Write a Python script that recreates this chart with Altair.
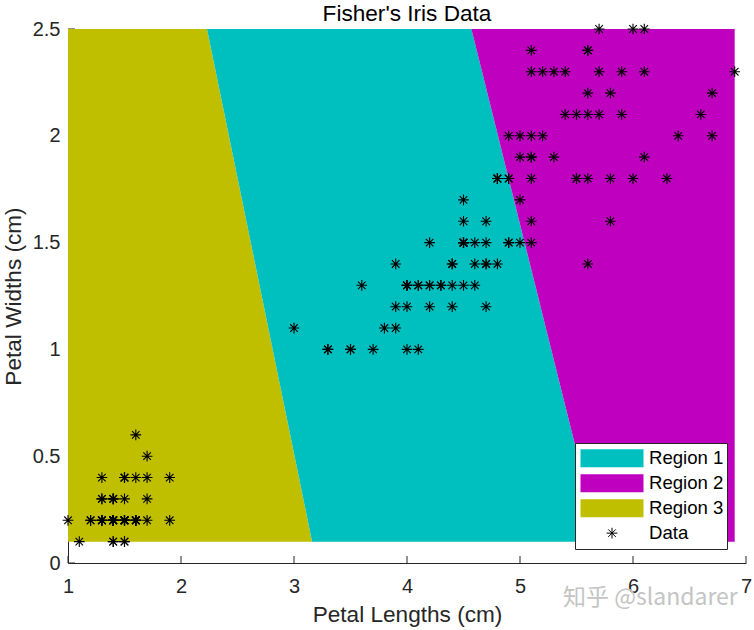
import altair as alt
import pandas as pd

# ---------------- data ----------------
petal_length = [
    1.4, 1.4, 1.3, 1.5, 1.4, 1.7, 1.4, 1.5, 1.4, 1.5, 1.5, 1.6, 1.4, 1.1, 1.2, 1.5, 1.3, 1.4, 1.7, 1.5,
    1.7, 1.5, 1.0, 1.7, 1.9, 1.6, 1.6, 1.5, 1.4, 1.6, 1.6, 1.5, 1.5, 1.4, 1.5, 1.2, 1.3, 1.4, 1.3, 1.5,
    1.3, 1.3, 1.3, 1.6, 1.9, 1.4, 1.6, 1.4, 1.5, 1.4,
    4.7, 4.5, 4.9, 4.0, 4.6, 4.5, 4.7, 3.3, 4.6, 3.9, 3.5, 4.2, 4.0, 4.7, 3.6, 4.4, 4.5, 4.1, 4.5, 3.9,
    4.8, 4.0, 4.9, 4.7, 4.3, 4.4, 4.8, 5.0, 4.5, 3.5, 3.8, 3.7, 3.9, 5.1, 4.5, 4.5, 4.7, 4.4, 4.1, 4.0,
    4.4, 4.6, 4.0, 3.3, 4.2, 4.2, 4.2, 4.3, 3.0, 4.1,
    6.0, 5.1, 5.9, 5.6, 5.8, 6.6, 4.5, 6.3, 5.8, 6.1, 5.1, 5.3, 5.5, 5.0, 5.1, 5.3, 5.5, 6.7, 6.9, 5.0,
    5.7, 4.9, 6.7, 4.9, 5.7, 6.0, 4.8, 4.9, 5.6, 5.8, 6.1, 6.4, 5.6, 5.1, 5.6, 6.1, 5.6, 5.5, 4.8, 5.4,
    5.6, 5.1, 5.1, 5.9, 5.7, 5.2, 5.0, 5.2, 5.4, 5.1,
]
petal_width = [
    0.2, 0.2, 0.2, 0.2, 0.2, 0.4, 0.3, 0.2, 0.2, 0.1, 0.2, 0.2, 0.1, 0.1, 0.2, 0.4, 0.4, 0.3, 0.3, 0.3,
    0.2, 0.4, 0.2, 0.5, 0.2, 0.2, 0.4, 0.2, 0.2, 0.2, 0.2, 0.4, 0.1, 0.2, 0.2, 0.2, 0.2, 0.1, 0.2, 0.2,
    0.3, 0.3, 0.2, 0.6, 0.4, 0.3, 0.2, 0.2, 0.2, 0.2,
    1.4, 1.5, 1.5, 1.3, 1.5, 1.3, 1.6, 1.0, 1.3, 1.4, 1.0, 1.5, 1.0, 1.4, 1.3, 1.4, 1.5, 1.0, 1.5, 1.1,
    1.8, 1.3, 1.5, 1.2, 1.3, 1.4, 1.4, 1.7, 1.5, 1.0, 1.1, 1.0, 1.2, 1.6, 1.5, 1.6, 1.5, 1.3, 1.3, 1.3,
    1.2, 1.4, 1.2, 1.0, 1.3, 1.2, 1.3, 1.3, 1.1, 1.3,
    2.5, 1.9, 2.1, 1.8, 2.2, 2.1, 1.7, 1.8, 1.8, 2.5, 2.0, 1.9, 2.1, 2.0, 2.4, 2.3, 1.8, 2.2, 2.3, 1.5,
    2.3, 2.0, 2.0, 1.8, 2.1, 1.8, 1.8, 1.8, 2.1, 1.6, 1.9, 2.0, 2.2, 1.5, 1.4, 2.3, 2.4, 1.8, 1.8, 2.1,
    2.4, 2.3, 1.9, 2.3, 2.5, 2.3, 1.9, 2.0, 2.3, 1.8,
]

legend_names = ["Region 1", "Region 2", "Region 3", "Data"]
fill_colors = ["#00bfbf", "#bf00bf", "#bfbf00", "transparent"]
stroke_colors = ["transparent", "transparent", "transparent", "black"]

# classification regions: boundaries given at the bottom / top of the grid
y_edges = [0.1, 2.5]
x_left_edge = 1.0
x_right_edge = 6.9
boundary_3_1 = [3.16, 2.23]   # Region 3 | Region 1
boundary_1_2 = [5.70, 4.57]   # Region 1 | Region 2

x_ticks = [1, 2, 3, 4, 5, 6, 7]
y_ticks = [0, 0.5, 1, 1.5, 2, 2.5]

title_text = "Fisher's Iris Data"
x_title = "Petal Lengths (cm)"
y_title = "Petal Widths (cm)"
watermark = "知乎 @slandarer"

# ---------------- tables ----------------
area_rows = []
for i, yv in enumerate(y_edges):
    area_rows.append({"name": "Region 3", "y": yv, "x": x_left_edge, "x2": boundary_3_1[i]})
    area_rows.append({"name": "Region 1", "y": yv, "x": boundary_3_1[i], "x2": boundary_1_2[i]})
    area_rows.append({"name": "Region 2", "y": yv, "x": boundary_1_2[i], "x2": x_right_edge})
areas_df = pd.DataFrame(area_rows)
points_df = pd.DataFrame({"pl": petal_length, "pw": petal_width, "name": "Data"})
xt_df = pd.DataFrame({"v": x_ticks})
yt_df = pd.DataFrame({"v": y_ticks})

FONT = "Liberation Sans"
AX = "#262626"
W, H = 678, 534

xscale = alt.Scale(domain=[1, 7], nice=False, zero=False)
yscale = alt.Scale(domain=[0, 2.5], nice=False, zero=False)
xaxis = alt.Axis(values=x_ticks, format="~g", title=x_title, ticks=False, tickSize=0,
                 labelPadding=13, labelFlush=False, labelOverlap=False, labelBound=False,
                 grid=False, titleY=58, titleBaseline="alphabetic")
yaxis = alt.Axis(values=y_ticks, format="~g", title=y_title, ticks=False, tickSize=0,
                 labelPadding=8, labelFlush=False, labelOverlap=False, labelBound=False,
                 grid=False, titleX=-48, titleBaseline="alphabetic")


def X(f):
    return alt.X(f, type="quantitative", scale=xscale, axis=xaxis)


def Y(f):
    return alt.Y(f, type="quantitative", scale=yscale, axis=yaxis)


rect_path = "M-1,-0.2857L1,-0.2857L1,0.2857L-1,0.2857Z"
ast_path = ("M-0.17,0L0.17,0M0,-0.17L0,0.17"
            "M-0.12,-0.12L0.12,0.12M-0.12,0.12L0.12,-0.12")
shape_paths = [rect_path, rect_path, rect_path, ast_path]
SYM = 3969


def make_legend():
    return alt.Legend(
        title=None, orient="none", legendX=507, legendY=414,
        fillColor="white", strokeColor=AX, padding=3, rowPadding=0, clipHeight=24.3,
        symbolSize=SYM, symbolOffset=2, labelOffset=5, symbolStrokeWidth=1,
        labelFont=FONT, labelFontSize=18.6, labelColor="black",
    )


yticks_layer = alt.Chart(yt_df).mark_rule(color=AX, strokeWidth=1).encode(
    y=Y("v"), x=alt.value(0), x2=alt.value(7)
)

areas = alt.Chart(areas_df).mark_area(orient="horizontal", opacity=1).encode(
    y=Y("y"), x=X("x"), x2="x2:Q",
    fill=alt.Fill("name:N", scale=alt.Scale(domain=legend_names, range=fill_colors),
                  legend=make_legend()),
)

xticks_layer = alt.Chart(xt_df).mark_rule(color=AX, strokeWidth=1).encode(
    x=X("v"), y=alt.value(H), y2=alt.value(H - 7)
)

points = alt.Chart(points_df).mark_point(
    size=SYM, filled=False, strokeWidth=1.1, opacity=1
).encode(
    x=X("pl"), y=Y("pw"),
    shape=alt.Shape("name:N", scale=alt.Scale(domain=legend_names, range=shape_paths),
                    legend=make_legend()),
    stroke=alt.Stroke("name:N", scale=alt.Scale(domain=legend_names, range=stroke_colors),
                      legend=make_legend()),
)

wm = alt.Chart(pd.DataFrame({"t": [watermark]})).mark_text(
    align="left", baseline="alphabetic", font="Noto Sans CJK SC", fontSize=23,
    color="#c4c4c4"
).encode(text="t:N", x=alt.value(495), y=alt.value(576))

chart = (
    alt.layer(yticks_layer, areas, xticks_layer, points, wm)
    .properties(
        width=W, height=H,
        title=alt.TitleParams(title_text, font=FONT, fontSize=22.6, fontWeight="normal",
                              color="black", anchor="middle", offset=4, dy=11),
        autosize=alt.AutoSizeParams(type="none"),
        padding={"left": 68, "top": 29, "right": 8, "bottom": 67},
        background="white",
    )
    .configure_view(stroke=None)
    .configure_axis(
        domainColor=AX, domainWidth=1, labelColor=AX, labelFont=FONT, labelFontSize=20,
        titleColor=AX, titleFont=FONT, titleFontSize=22.6, titleFontWeight="normal", zindex=0,
    )
)

chart.save("out.html", embed_options={"renderer": "svg", "actions": False})
